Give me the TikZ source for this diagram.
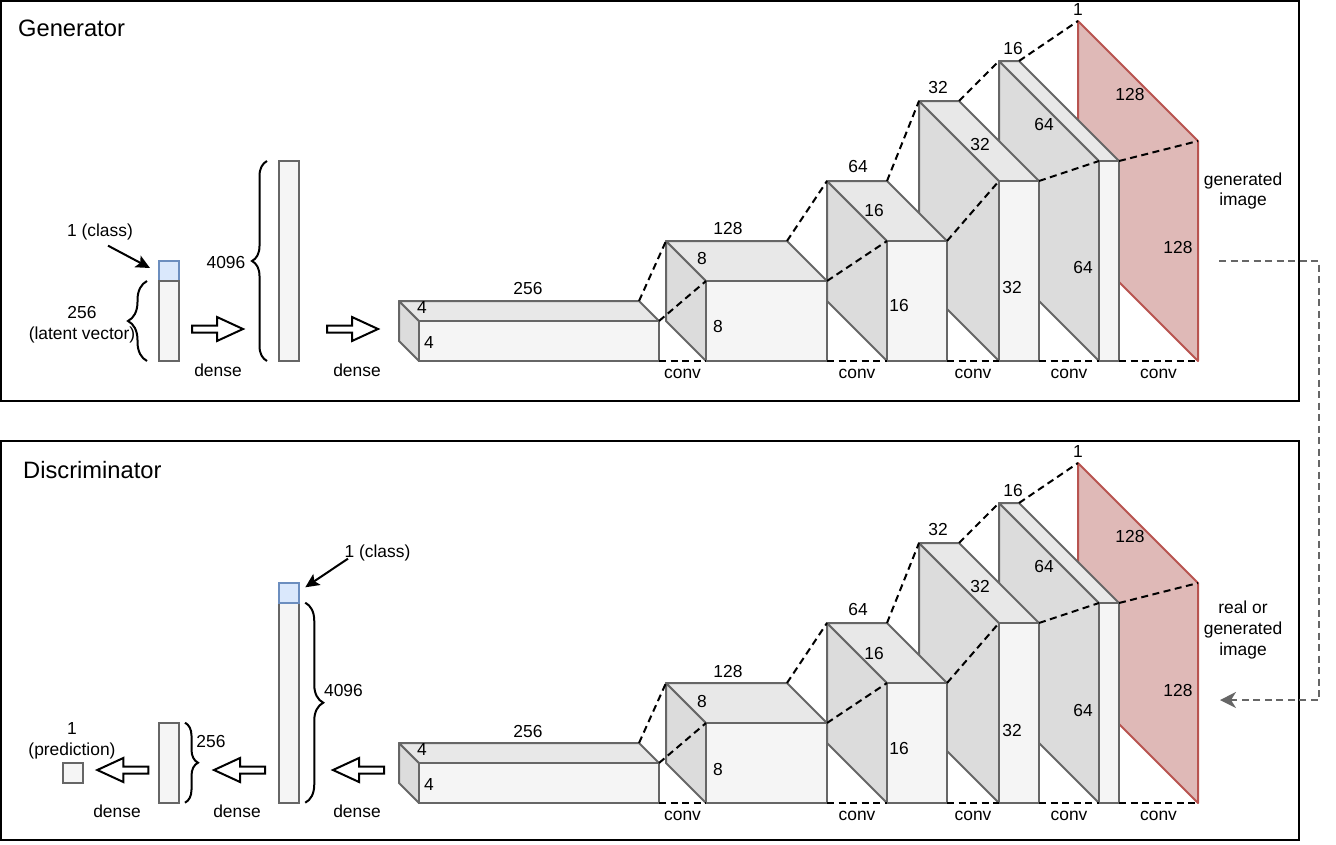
\documentclass[tikz,border=0pt]{standalone}
\usepackage{fontspec}
\setmainfont{Liberation Sans}
\usepackage{tikz}
\usetikzlibrary{arrows.meta,decorations.pathreplacing}
\definecolor{edgegray}{HTML}{666666}
\definecolor{frontgray}{HTML}{F5F5F5}
\definecolor{topgray}{HTML}{E8E8E8}
\definecolor{sidegray}{HTML}{DCDCDC}
\definecolor{classfill}{HTML}{DAE8FC}
\definecolor{classblue}{HTML}{6C8EBF}
\definecolor{planefill}{HTML}{DFB9B7}
\definecolor{planered}{HTML}{B85450}

\begin{document}
\begin{tikzpicture}[x=1pt,y=-1pt,align=center,
  font=\fontsize{17.4}{20.8}\selectfont,
  frame/.style={draw=black,line width=2.2pt},
  title/.style={anchor=base west,inner sep=0pt,font=\fontsize{23.7}{28}\selectfont},
  cell/.style={draw=edgegray,fill=frontgray,line width=2pt,inner sep=0pt,outer sep=0pt},
  classcell/.style={cell,draw=classblue,fill=classfill},
  topface/.style={draw=edgegray,fill=topgray,line width=2pt,line join=round},
  sideface/.style={draw=edgegray,fill=sidegray,line width=2pt,line join=round},
  plane/.style={draw=planered,fill=planefill,line width=2pt,line join=round},
  dashline/.style={draw=black,line width=2pt,dash pattern=on 7pt off 4.5pt},
  link/.style={draw=edgegray,line width=1.8pt,dash pattern=on 7pt off 4.5pt,-{Stealth[length=16pt,width=16pt,inset=5pt]}},
  pointer/.style={draw=black,line width=2pt,-{Stealth[length=14pt,width=13pt,inset=3pt]}},
  hollow/.style={draw=black,fill=white,line width=2pt},
  brc/.style={draw=black,line width=2pt,decorate}]
\useasboundingbox (0,0) rectangle (1336,844);
\draw[frame] (1,1) rectangle (1299,401);
\draw[frame] (1,441) rectangle (1299,840);
\node[title] (gtitle) at (18,36) {Generator};
\node[title] (dtitle) at (23,478) {Discriminator};

\foreach \oy/\pre in {0/g,442/d}{
\begin{scope}[shift={(0,\oy)}]
\draw[plane] (1198,141) -- (1078,21) -- (1078,241) -- (1198,361) -- cycle;
\node[inner sep=0pt,outer sep=0pt,minimum width=0pt,minimum height=220pt] (\pre red) at (1198,251) {};
\coordinate (\pre redbl) at (1078,21);
\foreach \n/\xa/\xb/\ya/\dp in {64/1099/1119/161/100, 32/999/1039/181/80,
    16/887/947/241/60, 8/706/827/281/40, 4/419/659/321/20}{
  \draw[sideface] (\xa,\ya) -- ++(-\dp,-\dp) -- ({\xa-\dp},{361-\dp}) -- (\xa,361) -- cycle;
  \draw[topface] (\xa,\ya) -- (\xb,\ya) -- ++(-\dp,-\dp) -- ({\xa-\dp},{\ya-\dp}) -- cycle;
  \node[cell,minimum width={\xb-\xa},minimum height={361-\ya}] (\pre\n) at ({(\xa+\xb)/2},{(\ya+361)/2}) {};
  \coordinate (\pre\n bl) at ({\xa-\dp},{\ya-\dp});
  \coordinate (\pre\n br) at ({\xb-\dp},{\ya-\dp});
}
\foreach \ca/\cb in {4/8,8/16,16/32,32/64,64/red}{
  \draw[dashline] (\pre\ca br) -- (\pre\cb bl);
  \draw[dashline] (\pre\ca.north east) -- (\pre\cb.north west);
  \draw[dashline] (\pre\ca.south east) -- (\pre\cb.south west) node[midway,below=4pt] {conv};
}
\node (\pre4w) at (528,289) {256};
\node (\pre4d) at (422,308) {4};
\node (\pre4h) at (429,343) {4};
\node (\pre8w) at (728,229) {128};
\node (\pre8d) at (702,259) {8};
\node (\pre8h) at (718,327) {8};
\node (\pre16w) at (858,167) {64};
\node (\pre16d) at (874,211) {16};
\node (\pre16h) at (899,306) {16};
\node (\pre32w) at (938,88) {32};
\node (\pre32d) at (980,145) {32};
\node (\pre32h) at (1012,288) {32};
\node (\pre64w) at (1013,49) {16};
\node (\pre64d) at (1044,125) {64};
\node (\pre64h) at (1083,268) {64};
\node (\pre redw) at (1078,10) {1};
\node (\pre redd) at (1130,95) {128};
\node (\pre redh) at (1178,248) {128};
\end{scope}
}

\node[classcell,minimum width=20pt,minimum height=21pt] (gcls) at (169,271) {};
\node[cell,minimum width=20pt,minimum height=80pt] (glat) at (169,321) {};
\node[cell,minimum width=20pt,minimum height=200pt] (ghid) at (289,261) {};
\node (gclslbl) at (100,232) {1 (class)};
\draw[pointer] ([xshift=8pt,yshift=-2pt]gclslbl.south) -- ([xshift=-9pt,yshift=3pt]gcls.west);
\draw[brc,decoration={brace,amplitude=19pt}] ([xshift=-12pt]glat.south west) -- ([xshift=-12pt]glat.north west);
\node (glatlbl) at (82,325) {256\\(latent vector)};
\draw[brc,decoration={brace,amplitude=15pt}] ([xshift=-12pt]ghid.south west) -- ([xshift=-12pt]ghid.north west);
\node (ghidlbl) at (226,263) {4096};
\foreach \x in {192,327}
  \draw[hollow] (\x,325.5) -- ++(25,0) -- ++(0,-8.5) -- ++(26,12) -- ++(-26,12) -- ++(0,-8.5) -- ++(-25,0) -- cycle;
\node (gdense1) at (218,370) {dense};
\node (gdense2) at (357,370) {dense};
\node (gimg) at (1243,191) {generated\\image};
\coordinate (gout) at (1219,261);

\node[cell,minimum width=20pt,minimum height=19.5pt] (dpred) at (72.5,773) {};
\node (dpredlbl) at (72,740.6) {1\\(prediction)};
\node[cell,minimum width=20pt,minimum height=80pt] (dfc) at (169,762.7) {};
\node[cell,minimum width=20.5pt,minimum height=200pt] (dhid) at (289,702.7) {};
\node[classcell,minimum width=20.5pt,minimum height=20pt] (dcls) at (289,592.7) {};
\node (dclslbl) at (377.5,553) {1 (class)};
\draw[pointer] ([xshift=-29.5pt,yshift=6pt]dclslbl.south) -- ([xshift=6pt,yshift=5.4pt]dcls.east);
\draw[brc,decoration={brace,amplitude=18pt}] ([xshift=6pt]dhid.north east) -- ([xshift=6pt]dhid.south east);
\node (dhidlbl) at (343.5,690) {4096};
\draw[brc,decoration={brace,amplitude=13pt}] ([xshift=6pt]dfc.north east) -- ([xshift=6pt]dfc.south east);
\node (dfclbl) at (211,741) {256};
\foreach \x in {148.3,265,384}
  \draw[hollow] (\x,766.5) -- ++(-25,0) -- ++(0,-8.5) -- ++(-26,12) -- ++(26,12) -- ++(0,-8.5) -- ++(25,0) -- cycle;
\node (ddense1) at (117,811.7) {dense};
\node (ddense2) at (237,811.7) {dense};
\node (ddense3) at (357,811.7) {dense};
\node (dimg) at (1243,630) {real or\\generated\\image};
\coordinate (din) at (1220,700);

\draw[link] (gout) -- ++(100,0) |- (din);
\end{tikzpicture}
\end{document}
